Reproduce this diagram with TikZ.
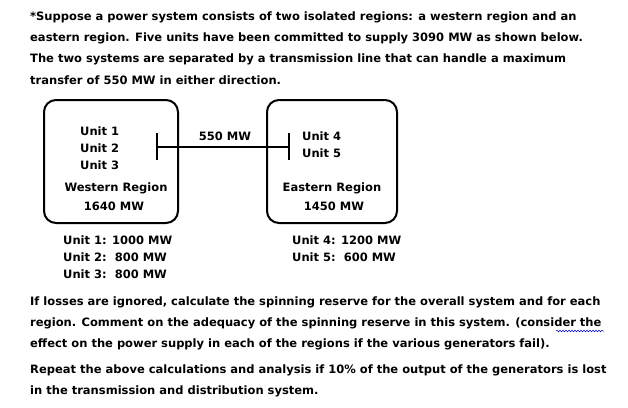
\documentclass[tikz,border=0pt]{standalone}
\usepackage{fontspec}
\setmainfont{DejaVu Sans}
\usetikzlibrary{decorations.pathmorphing}
\begin{document}
\begin{tikzpicture}[x=1pt,y=-1pt,
  txt/.style={anchor=west,inner sep=0pt,font=\bfseries\fontsize{11.5}{13}\selectfont},
  ctr/.style={anchor=center,inner sep=0pt,font=\bfseries\fontsize{11.5}{13}\selectfont},
  region/.style={draw,line width=2pt,rounded corners=12pt},
  bus/.style={line width=2.2pt}]
\useasboundingbox (0,0) rectangle (628,407);
\node[txt] (p1) at (30,17) {*Suppose a power system consists of two isolated regions: a western region and an};
\node[txt] (p2) at (30,38) {eastern region. Five units have been committed to supply 3090 MW as shown below.};
\node[txt] (p3) at (30,59) {The two systems are separated by a transmission line that can handle a maximum};
\node[txt] (p4) at (30,80) {transfer of 550 MW in either direction.};
\draw[region] (44,100) rectangle (178,223);
\draw[region] (267,100) rectangle (397,223);
\node[txt] (u1) at (80,131) {Unit 1};
\node[txt] (u2) at (80,148) {Unit 2};
\node[txt] (u3) at (80,165) {Unit 3};
\node[ctr] (wr) at (116,188) {Western Region};
\node[ctr] (wm) at (114,206) {1640 MW};
\node[txt] (u4) at (302,136) {Unit 4};
\node[txt] (u5) at (302,153) {Unit 5};
\node[ctr] (er) at (332,188) {Eastern Region};
\node[ctr] (em) at (334,206) {1450 MW};
\coordinate (lb1) at (157,133); \coordinate (lb2) at (157,160);
\coordinate (rb1) at (289,133); \coordinate (rb2) at (289,160);
\coordinate (la) at (157,147); \coordinate (ra) at (289,147);
\draw[bus] (lb1) -- (lb2);
\draw[bus] (rb1) -- (rb2);
\draw[line width=2pt] (la) -- (ra);
\node[ctr] (lab) at (225,136) {550 MW};
\node[txt] (w1) at (63,240) {Unit 1: 1000 MW};
\node[txt] (w2) at (63,257) {Unit 2:\ \ 800 MW};
\node[txt] (w3) at (63,274) {Unit 3:\ \ 800 MW};
\node[txt] (e4) at (292,240) {Unit 4: 1200 MW};
\node[txt] (e5) at (292,257) {Unit 5:\ \ 600 MW};
\node[txt] (q1) at (30,302) {If losses are ignored, calculate the spinning reserve for the overall system and for each};
\node[txt] (q2) at (30,323) {region. Comment on the adequacy of the spinning reserve in this system. (consider the};
\node[txt] (q3) at (30,344) {effect on the power supply in each of the regions if the various generators fail).};
\node[txt] (r1) at (30,370) {Repeat the above calculations and analysis if 10\% of the output of the generators is lost};
\node[txt] (r2) at (30,391) {in the transmission and distribution system.};
\draw[blue!70!black,line width=0.5pt,decorate,decoration={snake,amplitude=0.8pt,segment length=3pt}] (556,331) -- (604,331);
\end{tikzpicture}
\end{document}
